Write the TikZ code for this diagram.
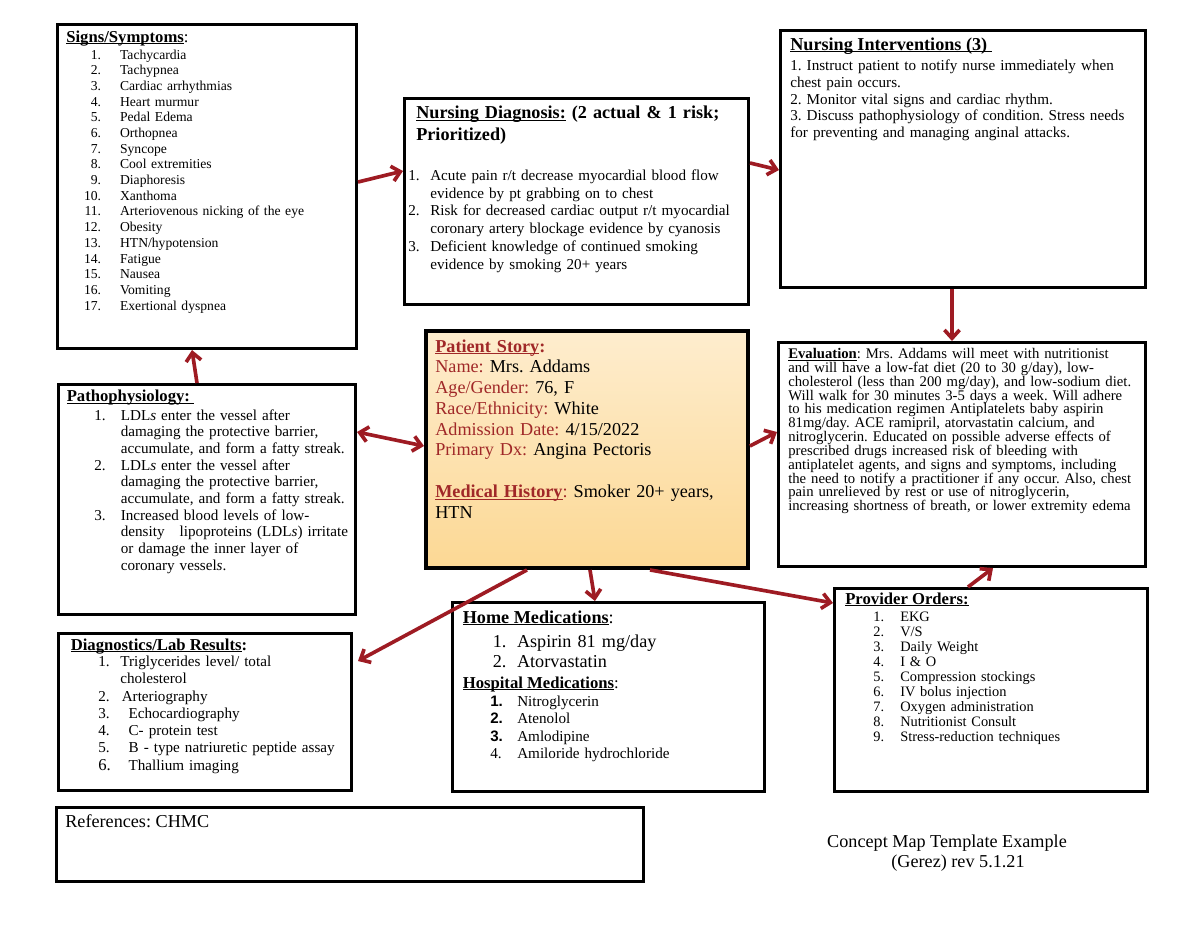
\documentclass[tikz,border=0pt]{standalone}
\usepackage{fontspec}
\setmainfont{Liberation Serif}
\newfontfamily\sansb{Liberation Sans}
\usetikzlibrary{arrows.meta}
\definecolor{arrred}{RGB}{158,27,35}
\definecolor{storyred}{RGB}{160,40,40}
\definecolor{storytop}{RGB}{254,237,206}
\definecolor{storybot}{RGB}{252,216,148}
\newcommand\mkbox[6][]{\node[boxst,#1,minimum width={(#5-#3)*0.66pt},minimum height={(#6-#4)*0.66pt}] (#2) at (#3,#4) {};}
\newcommand\fs[2]{\fontsize{#1}{#2}\selectfont}
\newcommand\ul[1]{\leavevmode\setbox0\hbox{#1}\rlap{\rule[-1.4pt]{\wd0}{0.55pt}}\box0}
\frenchspacing
\begin{document}
\frenchspacing
\begin{tikzpicture}[x=0.66pt,y=-0.66pt,
  boxst/.style={draw=black,line width=2pt,rectangle,inner sep=0pt,anchor=north west},
  txt/.style={anchor=base west,inner sep=0pt,align=left,text width=#1},
  txt/.default=330pt,
  ttl/.style={anchor=base west,inner sep=0pt},
  arr/.style={draw=arrred,line width=2.4pt,-{Straight Barb[length=5.5pt,width=10pt]}},
  arrb/.style={draw=arrred,line width=2.4pt,{Straight Barb[length=5.5pt,width=10pt]}-{Straight Barb[length=5.5pt,width=10pt]}}]
\useasboundingbox (0,0) rectangle (1200,927);
\fill[white] (0,0) rectangle (1200,927);

% boxes
\mkbox{signs}{56}{23}{355}{347}
\mkbox{ndx}{403}{97}{747}{303}
\mkbox{nint}{779}{29}{1144}{286}
\mkbox[line width=2.6pt,top color=storytop,bottom color=storybot]{story}{424}{329}{746}{566}
\mkbox{eval}{777}{341}{1144}{565}
\mkbox{patho}{57}{383}{354}{613}
\mkbox{diag}{57}{632}{350}{789}
\mkbox{home}{451}{601}{763}{790}
\mkbox{prov}{833}{587}{1146}{790}
\mkbox{refs}{55}{806}{642}{880}

% Signs/Symptoms
\newcommand\sg[1]{\makebox[23pt][r]{#1}\hspace{12.5pt}}
\node[ttl,font=\fs{11}{13}\bfseries] (signsttl) at (66,42) {\ul{Signs/Symptoms}\mdseries:};
\node[txt,font=\fs{9}{10.36}] (signstxt) at (66,59) {\sg{1.}Tachycardia\\\sg{2.}Tachypnea\\\sg{3.}Cardiac arrhythmias\\\sg{4.}Heart murmur\\\sg{5.}Pedal Edema\\\sg{6.}Orthopnea\\\sg{7.}Syncope\\\sg{8.}Cool extremities\\\sg{9.}Diaphoresis\\\sg{10.}Xanthoma\\\sg{11.}Arteriovenous nicking of the eye\\\sg{12.}Obesity\\\sg{13.}HTN/hypotension\\\sg{14.}Fatigue\\\sg{15.}Nausea\\\sg{16.}Vomiting\\\sg{17.}Exertional dyspnea};

% Nursing Diagnosis
\newcommand\nd[1]{\makebox[14.5pt][l]{#1}}
\node[txt,font=\fs{12}{14.7}\bfseries] (ndxttl) at (416,118.5) {\ul{Nursing Diagnosis:}\ (2 actual \& 1 risk;\\Prioritized)};
\node[txt,font=\fs{10}{11.7}] (ndxtxt) at (408,180.5) {\nd{1.}Acute pain r/t decrease myocardial blood flow\\\nd{}evidence by pt grabbing on to chest\\\nd{2.}Risk for decreased cardiac output r/t myocardial\\\nd{}coronary artery blockage evidence by cyanosis\\\nd{3.}Deficient knowledge of continued smoking\\\nd{}evidence by smoking 20+ years};

% Nursing Interventions
\node[ttl,font=\fs{12}{14}\bfseries] (nintttl) at (790,50) {\ul{Nursing Interventions (3)\ }};
\node[txt,font=\fs{10}{11.1}] (ninttxt) at (790,70.5) {1. Instruct patient to notify nurse immediately when\\chest pain occurs.\\2. Monitor vital signs and cardiac rhythm.\\3. Discuss pathophysiology of condition. Stress needs\\for preventing and managing anginal attacks.};

% Patient Story
\newcommand\rl[1]{{\color{storyred}#1}}
\node[txt,font=\fs{12}{13.7}] (storytxt) at (435,352) {\rl{\textbf{\ul{Patient Story}:}}\\\rl{Name:} Mrs. Addams\\\rl{Age/Gender:} 76, F\\\rl{Race/Ethnicity:} White\\\rl{Admission Date:} 4/15/2022\\\rl{Primary Dx:} Angina Pectoris\\\mbox{}\\\rl{\textbf{\ul{Medical History}}:} Smoker 20+ years,\\HTN};

% Evaluation
\node[txt=360pt,font=\fs{9.7}{9.14}] (evaltxt) at (788,358.5) {\textbf{\ul{Evaluation}}: Mrs. Addams will meet with nutritionist\\and will have a low-fat diet (20 to 30 g/day), low-\\cholesterol (less than 200 mg/day), and low-sodium diet.\\Will walk for 30 minutes 3-5 days a week. Will adhere\\to his medication regimen Antiplatelets baby aspirin\\81mg/day. ACE ramipril, atorvastatin calcium, and\\nitroglycerin. Educated on possible adverse effects of\\prescribed drugs increased risk of bleeding with\\antiplatelet agents, and signs and symptoms, including\\the need to notify a practitioner if any occur. Also, chest\\pain unrelieved by rest or use of nitroglycerin,\\increasing shortness of breath, or lower extremity edema};

% Pathophysiology
\newcommand\pp[1]{\makebox[17.5pt][l]{#1}}
\node[ttl,font=\fs{11}{13}\bfseries] (pathottl) at (66.5,401.5) {\ul{Pathophysiology:\ }};
\node[txt,font=\fs{10}{11}] (pathotxt) at (94,420) {\pp{1.}LDL\textit{s} enter the vessel after\\\pp{}damaging the protective barrier,\\\pp{}accumulate, and form a fatty streak.\\\pp{2.}LDL\textit{s} enter the vessel after\\\pp{}damaging the protective barrier,\\\pp{}accumulate, and form a fatty streak.\\\pp{3.}Increased blood levels of low-\\\pp{}density\ \ \ lipoproteins (LDL\textit{s}) irritate\\\pp{}or damage the inner layer of\\\pp{}coronary vessel\textit{s}.};

% Diagnostics
\newcommand\dg[1]{\makebox[14.5pt][l]{#1}}
\node[ttl,font=\fs{11}{13}\bfseries] (diagttl) at (70.5,650) {\ul{Diagnostics/Lab Results}:};
\node[txt,font=\fs{10}{11.4}] (diagtxt) at (98,666.5) {\dg{1.}Triglycerides level/ total\\\dg{}cholesterol\\\dg{2.}\hspace{1pt}Arteriography\\\dg{3.}\hspace{5.5pt}Echocardiography\\\dg{4.}\hspace{5.5pt}C- protein test\\\dg{5.}\hspace{5.5pt}B - type natriuretic peptide assay\\\dg{\fs{11}{11.4}6.}\hspace{5.5pt}Thallium imaging};

% Home Medications
\newcommand\hm[1]{\makebox[16pt][l]{#1}}
\newcommand\hs[1]{\makebox[17.8pt][l]{#1}}
\node[ttl,font=\fs{12}{14}\bfseries] (homettl) at (462.5,623) {\ul{Home Medications}\mdseries:};
\node[txt,font=\fs{12}{13.2}] (hometxt) at (492.5,647) {\hm{1.}Aspirin 81 mg/day\\\hm{2.}Atorvastatin};
\node[ttl,font=\fs{11}{13}\bfseries] (hospttl) at (462.5,688) {\ul{Hospital Medications}\mdseries:};
\node[txt,font=\fs{10}{11.6}] (hosptxt) at (490,706) {\hs{\sansb\bfseries 1.}Nitroglycerin\\\hs{\sansb\bfseries 2.}Atenolol\\\hs{\sansb\bfseries 3.}Amlodipine\\\hs{4.}Amiloride hydrochloride};

% Provider Orders
\newcommand\po[1]{\makebox[17.8pt][l]{#1}}
\node[ttl,font=\fs{11}{13}\bfseries] (provttl) at (845,604) {\ul{Provider Orders:}};
\node[txt,font=\fs{9.5}{9.97}] (provtxt) at (873,621) {\po{1.}EKG\\\po{2.}V/S\\\po{3.}Daily Weight\\\po{4.}I \& O\\\po{5.}Compression stockings\\\po{6.}IV bolus injection\\\po{7.}Oxygen administration\\\po{8.}Nutritionist Consult\\\po{9.}Stress-reduction techniques};

% References and footer
\node[ttl,font=\fs{12}{14}] (refstxt) at (65,827) {References: CHMC};
\node[anchor=base,inner sep=0pt,font=\fs{12}{14}] (foot1) at (947,847) {Concept Map Template Example};
\node[anchor=base,inner sep=0pt,font=\fs{12}{14}] (foot2) at (958,867) {(Gerez) rev 5.1.21};

% connectors
\coordinate (diagtip) at (358,661);
\draw[arr] (signs.east |- 0,182) -- (ndx.west |- 0,171);
\draw[arr] (ndx.east |- 0,163) -- (nint.west |- 0,170);
\draw[arr] (952,0 |- nint.south) -- (952,0 |- eval.north);
\draw[arr] (197,0 |- patho.north) -- (192,0 |- signs.south);
\draw[arrb] (patho.east |- 0,432) -- (story.west |- 0,446);
\draw[arr] (story.east |- 0,446) -- (eval.west |- 0,432);
\draw[arr] (527,0 |- story.south) -- (diagtip);
\draw[arr] (590,0 |- story.south) -- (595,0 |- home.north);
\draw[arr] (650,0 |- story.south) -- (prov.west |- 0,603);
\draw[arr] (968,0 |- prov.north) -- (993,0 |- eval.south);
\end{tikzpicture}
\end{document}
